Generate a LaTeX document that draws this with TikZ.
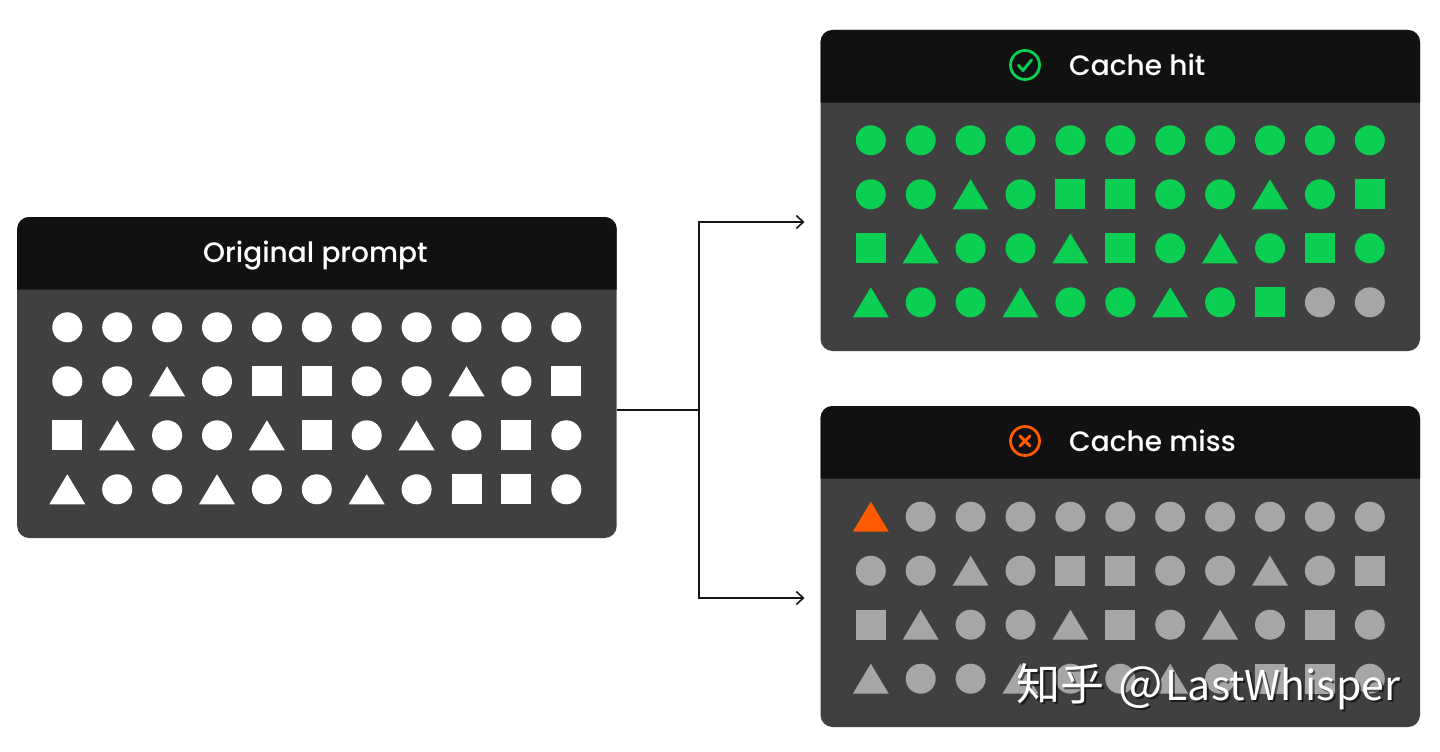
\documentclass[tikz,border=0pt]{standalone}
\usepackage{fontspec}
\setmainfont{Poppins}[UprightFont={* Medium}]
\newfontfamily\cjkfont{Noto Sans CJK SC}
\usetikzlibrary{arrows.meta}
\definecolor{panelbody}{HTML}{404040}
\definecolor{panelhead}{HTML}{111111}
\definecolor{hitgreen}{HTML}{0BCF52}
\definecolor{missorange}{HTML}{FF5A00}
\definecolor{mutedgray}{HTML}{A6A6A6}
\tikzset{
  panelnode/.style={rectangle,fill=panelbody,rounded corners=12,minimum width=599.5,minimum height=321,inner sep=0,outer sep=0},
  headlabel/.style={text=white,font=\fontsize{28}{36}\selectfont,inner sep=0,anchor=base west},
  connector/.style={draw=black!92,line width=1.6},
  arrowline/.style={connector,-{Straight Barb[length=7,width=13,line width=1.6]}},
  iconring/.style={line width=2.8,fill=none},
  iconmark/.style={line width=3,line cap=round,line join=round},
  watermark/.style={font=\cjkfont\fontsize{41}{50}\selectfont,inner sep=0,anchor=base west}
}
\newcommand{\wmtext}{{\fontsize{44}{50}\selectfont 知乎}\hspace{14pt}{\fontsize{47}{50}\selectfont @}\hspace{3pt}LastWhisper}
\newcommand{\shapec}[3]{\fill[#3] (#1,#2) circle[radius=15];}
\newcommand{\shapes}[3]{\fill[#3] (#1-15,#2-15) rectangle (#1+15,#2+15);}
\newcommand{\shapet}[3]{\fill[#3] (#1,#2-15) -- (#1+18,#2+15) -- (#1-18,#2+15) -- cycle;}
\newcommand{\headband}[2]{\fill[panelhead] (#1,#2+72.5) [rounded corners=12] -- (#1,#2) -- (#1+599.5,#2) [sharp corners] -- (#1+599.5,#2+72.5) -- cycle;}
% #1 left, #2 top, #3 first cell of the grid, #4 tenth cell of row 4
\newcommand{\shapegrid}[4]{%
  \foreach \rowlist [count=\r] in {{#3,c,c,c,c,c,c,c,c,c,c},{c,c,t,c,s,s,c,c,t,c,s},{s,t,c,c,t,s,c,t,c,s,c},{t,c,c,t,c,c,t,c,s,#4,c}}{
    \foreach \k [count=\c] in \rowlist {
      \pgfmathsetmacro{\px}{#1+50.3+49.9*(\c-1)}
      \pgfmathsetmacro{\py}{#2+110.3+54*(\r-1)}
      \pgfmathtruncatemacro{\idx}{(\r-1)*11+\c}
      \ifnum\gridmode=0 \def\shcol{white}\fi
      \ifnum\gridmode=1 \ifnum\idx>42 \def\shcol{mutedgray}\else\def\shcol{hitgreen}\fi\fi
      \ifnum\gridmode=2 \ifnum\idx=1 \def\shcol{missorange}\else\def\shcol{mutedgray}\fi\fi
      \csname shape\k\endcsname{\px}{\py}{\shcol}
    }
  }
}
\begin{document}
\begin{tikzpicture}[x=1pt,y=-1pt]
\useasboundingbox (0,0) rectangle (1440,752);
\fill[white] (0,0) rectangle (1440,752);

% panels
\node[panelnode] (orig) at (316.95,377.5) {};
\node[panelnode] (hit) at (1120.25,190.5) {};
\node[panelnode] (miss) at (1120.25,566.5) {};
\headband{17.2}{217}
\headband{820.5}{30}
\headband{820.5}{406}

% headers
\node[headlabel] (origlabel) at (203,262) {Original prompt};
\node[headlabel] (hitlabel) at (1069,75) {Cache hit};
\node[headlabel] (misslabel) at (1069,451) {Cache miss};

% icons
\draw[iconring,hitgreen] (1025,65) circle[radius=14.5];
\draw[iconmark,hitgreen] (1018.5,65.5) -- (1023,70.5) -- (1031.5,60);
\draw[iconring,missorange] (1025,441) circle[radius=14.5];
\draw[iconmark,missorange] (1020,436) -- (1030,446);
\draw[iconmark,missorange] (1030,436) -- (1020,446);

% shapes
\def\gridmode{0}\shapegrid{17}{217}{c}{s}
\def\gridmode{1}\shapegrid{820.5}{30}{c}{c}
\def\gridmode{2}\shapegrid{820.5}{406.4}{t}{s}

% connectors
\coordinate (origout) at (orig.east |- 0,410);
\coordinate (split) at (699,410);
\coordinate (hitin) at (804.5,222);
\coordinate (missin) at (804.5,598);
\draw[connector] (origout) -- (split);
\draw[arrowline] (split) |- (hitin);
\draw[arrowline] (split) |- (missin);

% watermark
\node[watermark,text=black,opacity=.55] (wmshadow) at (1018,702) {\wmtext};
\node[watermark,text=white] (wm) at (1016,700) {\wmtext};
\end{tikzpicture}
\end{document}
